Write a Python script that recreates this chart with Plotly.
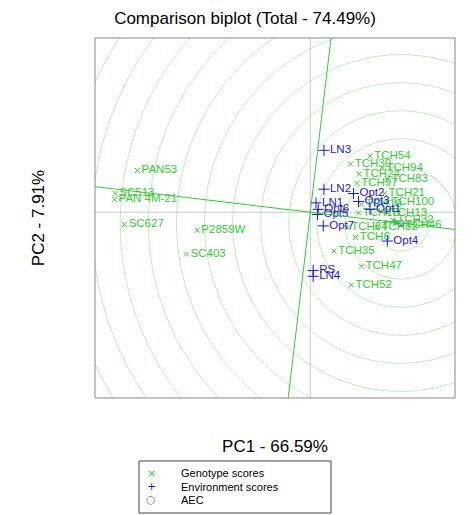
import plotly.graph_objects as go

gen_names = ["PAN53","SC513","PAN 4M-21","SC627","P2859W","SC403","TCH30","TCH54","TCH94","TCH24",
             "TCH83","TCH97","TCH21","TCH100","TCH19","TCH18","TCH13","TCH32","TCH82","TCH84",
             "TCH46","TCH6","TCH35","TCH47","TCH52"]
gen_x = [-2.40,-2.71,-2.72,-2.58,-1.57,-1.72,0.56,0.83,1.00,0.68,1.07,0.65,1.03,1.07,0.71,0.67,1.06,1.15,0.93,0.51,1.26,0.63,0.33,0.71,0.57]
gen_y = [0.58,0.26,0.18,-0.17,-0.25,-0.58,0.67,0.78,0.61,0.53,0.46,0.40,0.26,0.14,0.11,-0.01,-0.01,-0.11,-0.21,-0.21,-0.18,-0.35,-0.54,-0.75,-1.01]

env_names = ["LN3","LN2","LN1","Opt6","Opt5","Opt7","Opt2","Opt3","Opt1","Opt4","RS","LN4"]
env_x = [0.19,0.19,0.08,0.11,0.10,0.18,0.60,0.67,0.83,1.07,0.04,0.04]
env_y = [0.86,0.32,0.13,0.04,-0.03,-0.19,0.26,0.15,0.04,-0.40,-0.81,-0.89]

aec_x, aec_y = 1.26, -0.15
ring_step = 0.39
n_rings = 12

legend_labels = ["Genotype scores", "Environment scores", "AEC"]
legend_symbols = ["×", "+", "○"]

green = "#33cc33"
blue = "#1a1acc"
legend_colors = [green, blue, "#6666ee"]

fig = go.Figure()
shapes = []
for k in range(1, n_rings + 1):
    r = k * ring_step
    shapes.append(dict(type="circle", xref="x", yref="y", x0=aec_x - r, x1=aec_x + r,
                       y0=aec_y - r, y1=aec_y + r, line=dict(color="rgba(120,210,120,0.45)", width=1), layer="below"))
shapes.append(dict(type="line", xref="x", yref="y", x0=-3, x1=2.01, y0=0, y1=0, line=dict(color="#cccccc", width=1), layer="below"))
shapes.append(dict(type="line", xref="x", yref="y", x0=0, x1=0, y0=-2.58, y1=2.42, line=dict(color="#cccccc", width=1), layer="below"))
s = 20
shapes.append(dict(type="line", xref="x", yref="y", x0=-s * aec_x, y0=-s * aec_y, x1=s * aec_x, y1=s * aec_y, line=dict(color=green, width=1)))
shapes.append(dict(type="line", xref="x", yref="y", x0=s * aec_y, y0=-s * aec_x, x1=-s * aec_y, y1=s * aec_x, line=dict(color=green, width=1)))
shapes.append(dict(type="rect", xref="paper", yref="paper", x0=0, x1=1, y0=0, y1=1, line=dict(color="#888888", width=1)))

# manual legend box (pixel -> paper: x=(px-94)/360, y=(397-py)/360)
def px(p): return (p - 94) / 360
def py(p): return (397 - p) / 360
shapes.append(dict(type="rect", xref="paper", yref="paper", x0=px(138), x1=px(330), y0=py(460), y1=py(512),
                   line=dict(color="#444444", width=1), fillcolor="white"))
for i, (lab, sym, col) in enumerate(zip(legend_labels, legend_symbols, legend_colors)):
    yy = py(472 + i * 13.5)
    fig.add_annotation(x=px(150), y=yy, xref="paper", yref="paper", text=sym, showarrow=False,
                       font=dict(size=11, color=col, family="DejaVu Sans"), xanchor="center", yanchor="middle")
    fig.add_annotation(x=px(178), y=yy, xref="paper", yref="paper", text=lab, showarrow=False,
                       font=dict(size=11, color="black", family="Liberation Sans"), xanchor="left", yanchor="middle")

fig.add_trace(go.Scatter(x=gen_x, y=gen_y, mode="markers+text", text=gen_names, textposition="middle right",
                         textfont=dict(color=green, size=11.5, family="Liberation Sans"),
                         marker=dict(symbol="x-thin", size=5, line=dict(color=green, width=1), color=green),
                         name="Genotype scores"))
fig.add_trace(go.Scatter(x=env_x, y=env_y, mode="markers+text", text=env_names, textposition="middle right",
                         textfont=dict(color=blue, size=11.5, family="Liberation Sans"),
                         marker=dict(symbol="cross-thin", size=8, line=dict(color=blue, width=1), color=blue),
                         name="Environment scores"))
fig.add_trace(go.Scatter(x=[aec_x], y=[aec_y], mode="markers",
                         marker=dict(symbol="circle-open", size=6, color="#6666ee"), name="AEC"))
fig.add_annotation(x=aec_x, y=aec_y, ax=aec_x * 0.8, ay=aec_y * 0.8, xref="x", yref="y", axref="x", ayref="y",
                   showarrow=True, arrowhead=2, arrowsize=1, arrowwidth=1.5, arrowcolor=green, text="")

fig.update_layout(
    width=474, height=515, plot_bgcolor="white", paper_bgcolor="white",
    margin=dict(l=87, r=27, t=30, b=125, autoexpand=False),
    title=dict(text="Comparison biplot (Total - 74.49%)", x=0.5, xanchor="center", y=0.98, yanchor="middle",
               font=dict(size=17, color="black", family="Liberation Sans")),
    xaxis=dict(range=[-2.99, 2.01], showgrid=False, zeroline=False, showticklabels=False, ticks="", automargin=False,
               title=dict(text="PC1 - 66.59%", font=dict(size=17, color="black", family="Liberation Sans"), standoff=42)),
    yaxis=dict(range=[-2.58, 2.42], showgrid=False, zeroline=False, showticklabels=False, ticks="", automargin=False,
               title=dict(text="PC2 - 7.91%", font=dict(size=17, color="black", family="Liberation Sans"), standoff=45)),
    shapes=shapes,
    showlegend=False,
)
fig.write_html("out.html")
